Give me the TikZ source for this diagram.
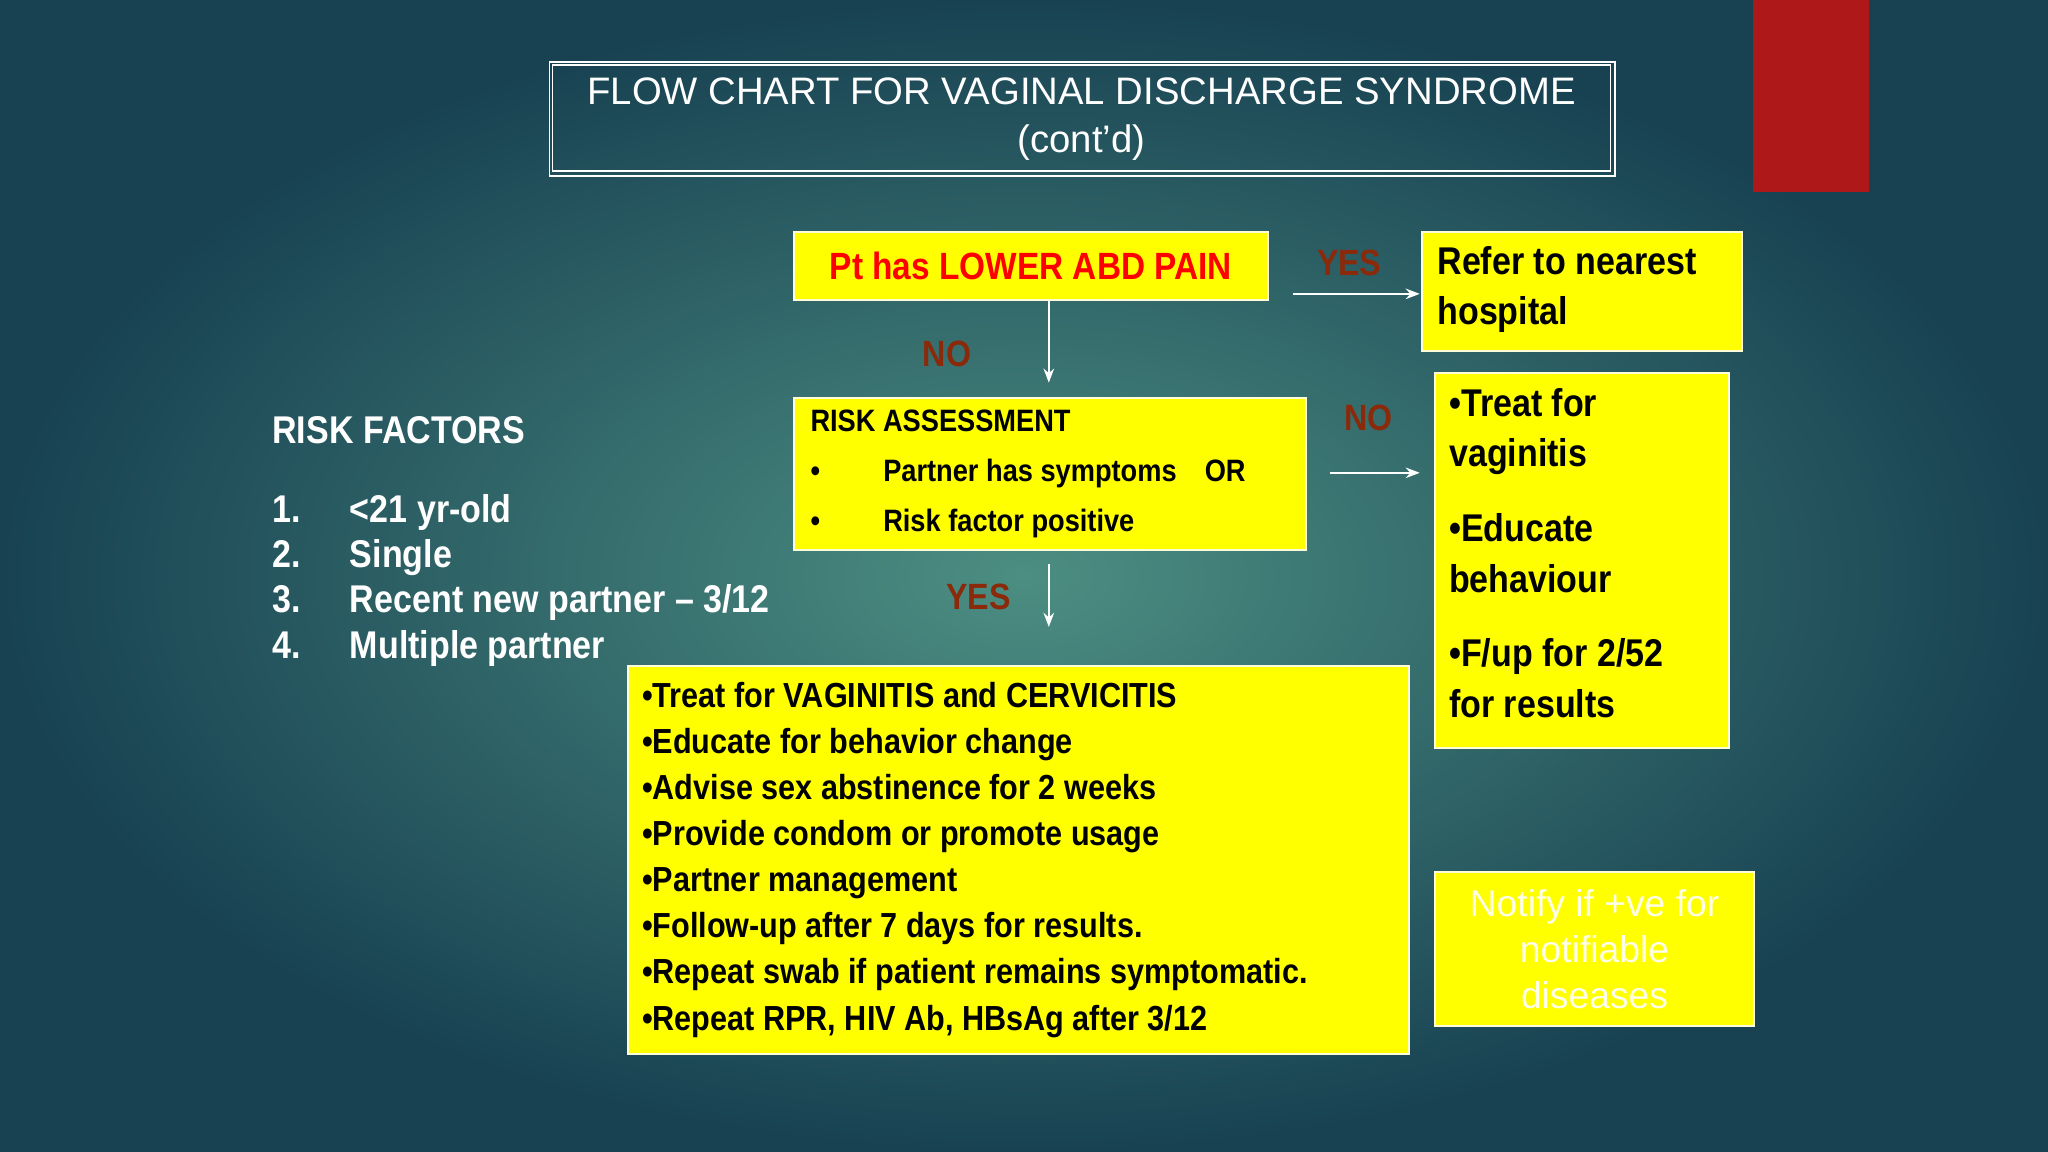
\documentclass[tikz,border=0pt]{standalone}
\usepackage{fontspec}
\setmainfont{Liberation Sans}
\newfontfamily\cond[FakeStretch=0.88]{Liberation Sans}
\usetikzlibrary{arrows.meta}
\definecolor{ybox}{HTML}{FFFF00}
\definecolor{lbl}{HTML}{8A2A0A}
\definecolor{redbar}{HTML}{AE1818}
\begin{document}
\begin{tikzpicture}[x=0.01306cm,y=-0.01306cm,
  yb/.style={draw=white!85!yellow,line width=0.6pt,fill=ybox,anchor=north west,inner sep=0pt},
  txt/.style={font=\cond\bfseries\fontsize{9.3}{12.2}\selectfont,align=left,anchor=north west,inner sep=0pt},
  lab/.style={font=\cond\bfseries\fontsize{10.4}{12}\selectfont,text=lbl},
  arr/.style={draw=white,line width=0.6pt,-{Stealth[length=4pt,width=3pt]}}]
\shade[inner color={rgb,255:red,76;green,142;blue,130},outer color={rgb,255:red,24;green,66;blue,82}] (0,0) rectangle (1568,882);
\useasboundingbox (0,0) rectangle (1568,882);
\fill[redbar] (1342,0) rectangle (1431,147);
% title
\node[draw=white,line width=0.5pt,minimum width=816*0.01306cm,minimum height=87*0.01306cm,anchor=north west,inner sep=0pt] (title) at (420,47) {};
\draw[white,line width=0.5pt] (423,50) rectangle (1233,131);
\node[text=white,font=\fontsize{10.9}{13.6}\selectfont,align=center] (tt) at (828,91) {FLOW CHART FOR VAGINAL DISCHARGE SYNDROME\\(cont’d)};
% box 1
\node[yb,minimum width=363*0.01306cm,minimum height=52*0.01306cm] (b1) at (607,177) {};
\node[font=\cond\bfseries\fontsize{10.8}{12}\selectfont,text=red] (b1t) at (b1.center) {Pt has LOWER ABD PAIN};
% refer box
\node[yb,minimum width=245*0.01306cm,minimum height=91*0.01306cm] (ref) at (1088,177) {};
\node[txt,font=\cond\bfseries\fontsize{11}{14.2}\selectfont] (reft) at (1100,188) {Refer to nearest\\hospital};
% risk box
\node[yb,minimum width=392*0.01306cm,minimum height=116*0.01306cm] (risk) at (607,304) {};
\node[txt,font=\cond\bfseries\fontsize{8.8}{12}\selectfont] (riskt) at (620,313) {RISK ASSESSMENT};
\node[txt,font=\cond\bfseries\fontsize{8.8}{12}\selectfont] (r1) at (620,351) {•\hspace{18pt}Partner has symptoms\hspace{8pt}OR};
\node[txt,font=\cond\bfseries\fontsize{8.8}{12}\selectfont] (r2) at (620,389) {•\hspace{18pt}Risk factor positive};
% treat box
\node[yb,minimum width=225*0.01306cm,minimum height=287*0.01306cm] (tr) at (1098,285) {};
\node[txt,font=\cond\bfseries\fontsize{11}{14.3}\selectfont] (trt) at (1109,297) {•Treat for\\vaginitis\\[7pt]•Educate\\behaviour\\[7pt]•F/up for 2/52\\for results};
% big box
\node[yb,minimum width=598*0.01306cm,minimum height=297*0.01306cm] (big) at (480,509) {};
\node[txt,font=\cond\bfseries\fontsize{9.9}{13.1}\selectfont] (bigt) at (491,522) {•Treat for VAGINITIS and CERVICITIS\\•Educate for behavior change\\•Advise sex abstinence for 2 weeks\\•Provide condom or promote usage\\•Partner management\\•Follow-up after 7 days for results.\\•Repeat swab if patient remains symptomatic.\\•Repeat RPR, HIV Ab, HBsAg after 3/12};
% notify
\node[yb,minimum width=244*0.01306cm,minimum height=118*0.01306cm] (nt) at (1098,667) {};
\node[text=white!90!yellow,font=\fontsize{10.6}{13.1}\selectfont,align=center] (ntt) at (nt.center) {Notify if +ve for\\notifiable\\diseases};
% labels and arrows
\coordinate (a1s) at (990,225); \coordinate (a1e) at (1087,225);
\draw[arr] (a1s) -- (a1e);
\node[lab] (y1) at (1033,201) {YES};
\coordinate (a2e) at (803,293);
\draw[arr] (b1.south -| a2e) -- (a2e);
\node[lab] (n1) at (725,271) {NO};
\coordinate (a3s) at (1018,362); \coordinate (a3e) at (1087,362);
\draw[arr] (a3s) -- (a3e);
\node[lab] (n2) at (1048,320) {NO};
\coordinate (a4s) at (803,432); \coordinate (a4e) at (803,480);
\draw[arr] (a4s) -- (a4e);
\node[lab] (y2) at (749,457) {YES};
% risk factors
\node[txt,text=white,font=\cond\bfseries\fontsize{11}{12}\selectfont] (rf) at (208,318) {RISK FACTORS};
\node[txt,text=white,font=\cond\bfseries\fontsize{11}{12.9}\selectfont] (rfl) at (208,375) {\begin{tabular}{@{}l@{\hspace{14pt}}l@{}}1.&<21 yr-old\\2.&Single\\3.&Recent new partner – 3/12\\4.&Multiple partner\end{tabular}};
\end{tikzpicture}
\end{document}
